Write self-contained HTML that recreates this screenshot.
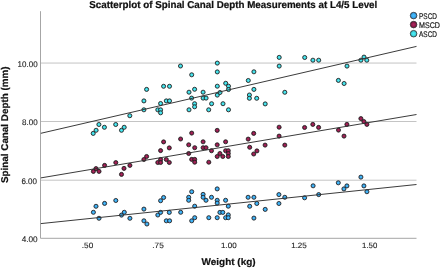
<!DOCTYPE html>
<html><head><meta charset="utf-8"><style>
html,body{margin:0;padding:0;background:#fff;}
svg{display:block;will-change:transform;}
text{font-family:"Liberation Sans",sans-serif;text-rendering:geometricPrecision;}
</style></head><body>
<svg width="440" height="268" viewBox="0 0 440 268">
<rect width="440" height="268" fill="#fff"/>
<text x="89.3" y="7.7" font-size="10" font-weight="bold" fill="#111" stroke="#111" stroke-width="0.22" textLength="288" lengthAdjust="spacingAndGlyphs">Scatterplot of Spinal Canal Depth Measurements at L4/5 Level</text>
<g stroke="#c4c4c4" stroke-width="1">
<line x1="41" y1="63.05" x2="416.5" y2="63.05"/>
<line x1="41" y1="121.5" x2="416.5" y2="121.5"/>
<line x1="41" y1="180.2" x2="416.5" y2="180.2"/>
</g>
<g stroke="#a6a6a6" stroke-width="1" fill="none">
<path d="M40.5 11.2 V238.3 H416.5"/>
</g>
<g font-size="8.2" fill="#1e1e1e" stroke="#1e1e1e" stroke-width="0.12" text-anchor="end">
<text x="37.6" y="66.8" textLength="20" lengthAdjust="spacingAndGlyphs">10.00</text>
<text x="37.6" y="124.9" textLength="15.6" lengthAdjust="spacingAndGlyphs">8.00</text>
<text x="37.0" y="183.6" textLength="15.6" lengthAdjust="spacingAndGlyphs">6.00</text>
<text x="37.7" y="241.8" textLength="16" lengthAdjust="spacingAndGlyphs">4.00</text>
</g>
<g font-size="7.7" fill="#1e1e1e" stroke="#1e1e1e" stroke-width="0.12" text-anchor="middle">
<text x="87.5" y="248.1" textLength="11.4" lengthAdjust="spacingAndGlyphs">.50</text>
<text x="158" y="248.1" textLength="11.4" lengthAdjust="spacingAndGlyphs">.75</text>
<text x="228.9" y="248.1" textLength="15.6" lengthAdjust="spacingAndGlyphs">1.00</text>
<text x="299" y="248.1" textLength="15.6" lengthAdjust="spacingAndGlyphs">1.25</text>
<text x="369.7" y="248.1" textLength="15.2" lengthAdjust="spacingAndGlyphs">1.50</text>
</g>
<text x="201.6" y="265" font-size="9.7" font-weight="bold" fill="#111" stroke="#111" stroke-width="0.2" textLength="54" lengthAdjust="spacingAndGlyphs">Weight (kg)</text>
<text transform="translate(7.6,183.0) rotate(-90)" font-size="9.8" font-weight="bold" fill="#111" stroke="#111" stroke-width="0.2" textLength="116.5" lengthAdjust="spacingAndGlyphs">Spinal Canal Depth (mm)</text>
<defs>
<radialGradient id="gP" cx="50%" cy="50%" r="50%"><stop offset="0" stop-color="#4cc0ff"/><stop offset="0.55" stop-color="#3aabf0"/><stop offset="1" stop-color="#2a7fc0"/></radialGradient>
<radialGradient id="gM" cx="50%" cy="50%" r="50%"><stop offset="0" stop-color="#b02a60"/><stop offset="0.55" stop-color="#951b4e"/><stop offset="1" stop-color="#6a1236"/></radialGradient>
<radialGradient id="gA" cx="50%" cy="50%" r="50%"><stop offset="0" stop-color="#50eef6"/><stop offset="0.55" stop-color="#40dbe4"/><stop offset="1" stop-color="#2aa5ac"/></radialGradient>
</defs>
<g stroke="#222" stroke-width="0.85">
<g fill="url(#gP)"><circle cx="93.4" cy="212.3" r="2.05"/><circle cx="96.0" cy="206.3" r="2.05"/><circle cx="99.0" cy="218.3" r="2.05"/><circle cx="104.6" cy="203.4" r="2.05"/><circle cx="115.8" cy="200.5" r="2.05"/><circle cx="121.5" cy="215.1" r="2.05"/><circle cx="124.3" cy="212.3" r="2.05"/><circle cx="129.9" cy="218.3" r="2.05"/><circle cx="143.9" cy="209.1" r="2.05"/><circle cx="143.9" cy="220.8" r="2.05"/><circle cx="146.9" cy="224.0" r="2.05"/><circle cx="157.8" cy="215.0" r="2.05"/><circle cx="160.6" cy="200.7" r="2.05"/><circle cx="160.6" cy="212.4" r="2.05"/><circle cx="163.6" cy="197.5" r="2.05"/><circle cx="166.3" cy="220.8" r="2.05"/><circle cx="169.6" cy="220.8" r="2.05"/><circle cx="169.3" cy="212.4" r="2.05"/><circle cx="180.7" cy="212.3" r="2.05"/><circle cx="191.7" cy="191.7" r="2.05"/><circle cx="188.7" cy="197.3" r="2.05"/><circle cx="188.7" cy="200.3" r="2.05"/><circle cx="194.7" cy="206.2" r="2.05"/><circle cx="203.1" cy="194.4" r="2.05"/><circle cx="203.1" cy="197.3" r="2.05"/><circle cx="206.0" cy="200.3" r="2.05"/><circle cx="211.5" cy="197.3" r="2.05"/><circle cx="217.2" cy="188.9" r="2.05"/><circle cx="217.2" cy="200.3" r="2.05"/><circle cx="217.2" cy="203.1" r="2.05"/><circle cx="225.6" cy="200.3" r="2.05"/><circle cx="228.3" cy="206.2" r="2.05"/><circle cx="219.9" cy="212.4" r="2.05"/><circle cx="222.8" cy="212.4" r="2.05"/><circle cx="228.3" cy="214.9" r="2.05"/><circle cx="191.7" cy="220.8" r="2.05"/><circle cx="194.7" cy="217.7" r="2.05"/><circle cx="208.8" cy="217.7" r="2.05"/><circle cx="217.2" cy="217.7" r="2.05"/><circle cx="225.6" cy="217.7" r="2.05"/><circle cx="228.3" cy="217.7" r="2.05"/><circle cx="248.1" cy="197.3" r="2.05"/><circle cx="253.9" cy="197.3" r="2.05"/><circle cx="249.7" cy="206.3" r="2.05"/><circle cx="256.8" cy="203.5" r="2.05"/><circle cx="265.2" cy="209.4" r="2.05"/><circle cx="253.9" cy="218.1" r="2.05"/><circle cx="278.9" cy="194.6" r="2.05"/><circle cx="278.9" cy="203.5" r="2.05"/><circle cx="284.8" cy="197.3" r="2.05"/><circle cx="304.6" cy="197.8" r="2.05"/><circle cx="313.1" cy="185.8" r="2.05"/><circle cx="318.7" cy="194.6" r="2.05"/><circle cx="338.3" cy="182.8" r="2.05"/><circle cx="343.9" cy="188.9" r="2.05"/><circle cx="346.9" cy="185.9" r="2.05"/><circle cx="360.9" cy="177.1" r="2.05"/><circle cx="363.9" cy="185.9" r="2.05"/><circle cx="366.9" cy="191.7" r="2.05"/></g>
<g fill="url(#gM)"><circle cx="93.4" cy="171.4" r="2.05"/><circle cx="96.0" cy="168.6" r="2.05"/><circle cx="99.0" cy="171.4" r="2.05"/><circle cx="104.6" cy="165.4" r="2.05"/><circle cx="115.8" cy="162.6" r="2.05"/><circle cx="121.5" cy="174.4" r="2.05"/><circle cx="124.0" cy="168.4" r="2.05"/><circle cx="129.9" cy="165.4" r="2.05"/><circle cx="143.9" cy="159.5" r="2.05"/><circle cx="146.6" cy="156.5" r="2.05"/><circle cx="157.8" cy="162.5" r="2.05"/><circle cx="160.6" cy="150.6" r="2.05"/><circle cx="160.6" cy="159.5" r="2.05"/><circle cx="160.6" cy="162.5" r="2.05"/><circle cx="163.6" cy="141.9" r="2.05"/><circle cx="166.3" cy="159.5" r="2.05"/><circle cx="169.3" cy="147.9" r="2.05"/><circle cx="169.3" cy="162.5" r="2.05"/><circle cx="180.6" cy="139.0" r="2.05"/><circle cx="188.7" cy="144.8" r="2.05"/><circle cx="188.7" cy="153.5" r="2.05"/><circle cx="191.7" cy="133.1" r="2.05"/><circle cx="191.7" cy="159.4" r="2.05"/><circle cx="194.7" cy="147.7" r="2.05"/><circle cx="194.7" cy="159.4" r="2.05"/><circle cx="194.7" cy="162.2" r="2.05"/><circle cx="203.1" cy="141.8" r="2.05"/><circle cx="203.1" cy="147.7" r="2.05"/><circle cx="206.0" cy="147.7" r="2.05"/><circle cx="208.8" cy="162.2" r="2.05"/><circle cx="211.5" cy="150.7" r="2.05"/><circle cx="217.2" cy="130.4" r="2.05"/><circle cx="217.2" cy="144.8" r="2.05"/><circle cx="217.2" cy="156.5" r="2.05"/><circle cx="219.9" cy="153.5" r="2.05"/><circle cx="222.8" cy="156.5" r="2.05"/><circle cx="225.6" cy="141.8" r="2.05"/><circle cx="225.6" cy="150.7" r="2.05"/><circle cx="228.3" cy="150.7" r="2.05"/><circle cx="228.3" cy="153.5" r="2.05"/><circle cx="228.3" cy="156.5" r="2.05"/><circle cx="248.2" cy="139.1" r="2.05"/><circle cx="249.7" cy="147.3" r="2.05"/><circle cx="253.7" cy="133.4" r="2.05"/><circle cx="253.7" cy="154.0" r="2.05"/><circle cx="256.9" cy="150.9" r="2.05"/><circle cx="265.1" cy="145.1" r="2.05"/><circle cx="279.1" cy="127.2" r="2.05"/><circle cx="279.1" cy="136.1" r="2.05"/><circle cx="284.8" cy="145.1" r="2.05"/><circle cx="304.6" cy="127.5" r="2.05"/><circle cx="312.8" cy="124.4" r="2.05"/><circle cx="318.6" cy="127.4" r="2.05"/><circle cx="338.5" cy="130.1" r="2.05"/><circle cx="344.0" cy="136.1" r="2.05"/><circle cx="346.9" cy="124.4" r="2.05"/><circle cx="360.9" cy="118.6" r="2.05"/><circle cx="363.9" cy="121.6" r="2.05"/><circle cx="366.9" cy="124.4" r="2.05"/></g>
<g fill="url(#gA)"><circle cx="93.2" cy="133.4" r="2.05"/><circle cx="96.1" cy="130.3" r="2.05"/><circle cx="98.9" cy="124.5" r="2.05"/><circle cx="104.4" cy="127.3" r="2.05"/><circle cx="115.7" cy="124.5" r="2.05"/><circle cx="121.5" cy="130.3" r="2.05"/><circle cx="124.2" cy="127.3" r="2.05"/><circle cx="129.8" cy="115.7" r="2.05"/><circle cx="143.9" cy="100.9" r="2.05"/><circle cx="143.9" cy="109.8" r="2.05"/><circle cx="146.6" cy="89.4" r="2.05"/><circle cx="157.8" cy="109.8" r="2.05"/><circle cx="160.6" cy="103.5" r="2.05"/><circle cx="160.6" cy="109.8" r="2.05"/><circle cx="160.6" cy="112.8" r="2.05"/><circle cx="163.6" cy="86.3" r="2.05"/><circle cx="166.3" cy="100.9" r="2.05"/><circle cx="169.5" cy="86.3" r="2.05"/><circle cx="169.5" cy="100.9" r="2.05"/><circle cx="180.5" cy="66.0" r="2.05"/><circle cx="191.7" cy="74.8" r="2.05"/><circle cx="189.0" cy="92.2" r="2.05"/><circle cx="194.6" cy="89.3" r="2.05"/><circle cx="191.6" cy="98.1" r="2.05"/><circle cx="203.1" cy="92.2" r="2.05"/><circle cx="203.1" cy="98.1" r="2.05"/><circle cx="206.1" cy="98.1" r="2.05"/><circle cx="194.6" cy="103.7" r="2.05"/><circle cx="194.6" cy="106.8" r="2.05"/><circle cx="189.0" cy="109.8" r="2.05"/><circle cx="211.6" cy="103.7" r="2.05"/><circle cx="208.7" cy="109.8" r="2.05"/><circle cx="217.3" cy="63.1" r="2.05"/><circle cx="217.3" cy="71.9" r="2.05"/><circle cx="217.3" cy="86.2" r="2.05"/><circle cx="217.3" cy="95.1" r="2.05"/><circle cx="220.0" cy="92.5" r="2.05"/><circle cx="225.7" cy="83.3" r="2.05"/><circle cx="228.5" cy="86.2" r="2.05"/><circle cx="228.5" cy="89.5" r="2.05"/><circle cx="223.0" cy="103.7" r="2.05"/><circle cx="228.5" cy="109.8" r="2.05"/><circle cx="248.3" cy="80.5" r="2.05"/><circle cx="253.9" cy="71.8" r="2.05"/><circle cx="253.9" cy="89.4" r="2.05"/><circle cx="249.4" cy="95.0" r="2.05"/><circle cx="249.4" cy="98.3" r="2.05"/><circle cx="256.7" cy="98.3" r="2.05"/><circle cx="265.2" cy="103.9" r="2.05"/><circle cx="279.2" cy="57.4" r="2.05"/><circle cx="279.2" cy="66.1" r="2.05"/><circle cx="284.8" cy="92.3" r="2.05"/><circle cx="304.7" cy="57.5" r="2.05"/><circle cx="312.9" cy="60.2" r="2.05"/><circle cx="318.7" cy="60.2" r="2.05"/><circle cx="338.4" cy="80.4" r="2.05"/><circle cx="344.1" cy="83.5" r="2.05"/><circle cx="347.0" cy="66.1" r="2.05"/><circle cx="360.9" cy="60.2" r="2.05"/><circle cx="364.0" cy="57.1" r="2.05"/><circle cx="366.8" cy="60.2" r="2.05"/></g>
</g>
<g stroke="#303030" stroke-width="0.95">
<line x1="40.85" y1="133.3" x2="416.5" y2="46.4"/>
<line x1="40.85" y1="177.9" x2="416.5" y2="114.5"/>
<line x1="40.85" y1="223.6" x2="416.5" y2="184.5"/>
</g>
<g stroke="#333" stroke-width="0.8">
<circle cx="413.6" cy="15.6" r="3.3" fill="url(#gP)"/>
<circle cx="413.6" cy="24.6" r="3.3" fill="url(#gM)"/>
<circle cx="413.6" cy="33.7" r="3.3" fill="url(#gA)"/>
</g>
<g font-size="8.2" fill="#1a1a1a" stroke="#1a1a1a" stroke-width="0.2">
<text x="419.0" y="18.8" textLength="18" lengthAdjust="spacingAndGlyphs">PSCD</text>
<text x="419.0" y="27.9" textLength="21" lengthAdjust="spacingAndGlyphs">MSCD</text>
<text x="419.0" y="37.0" textLength="18" lengthAdjust="spacingAndGlyphs">ASCD</text>
</g>
</svg>
</body></html>
